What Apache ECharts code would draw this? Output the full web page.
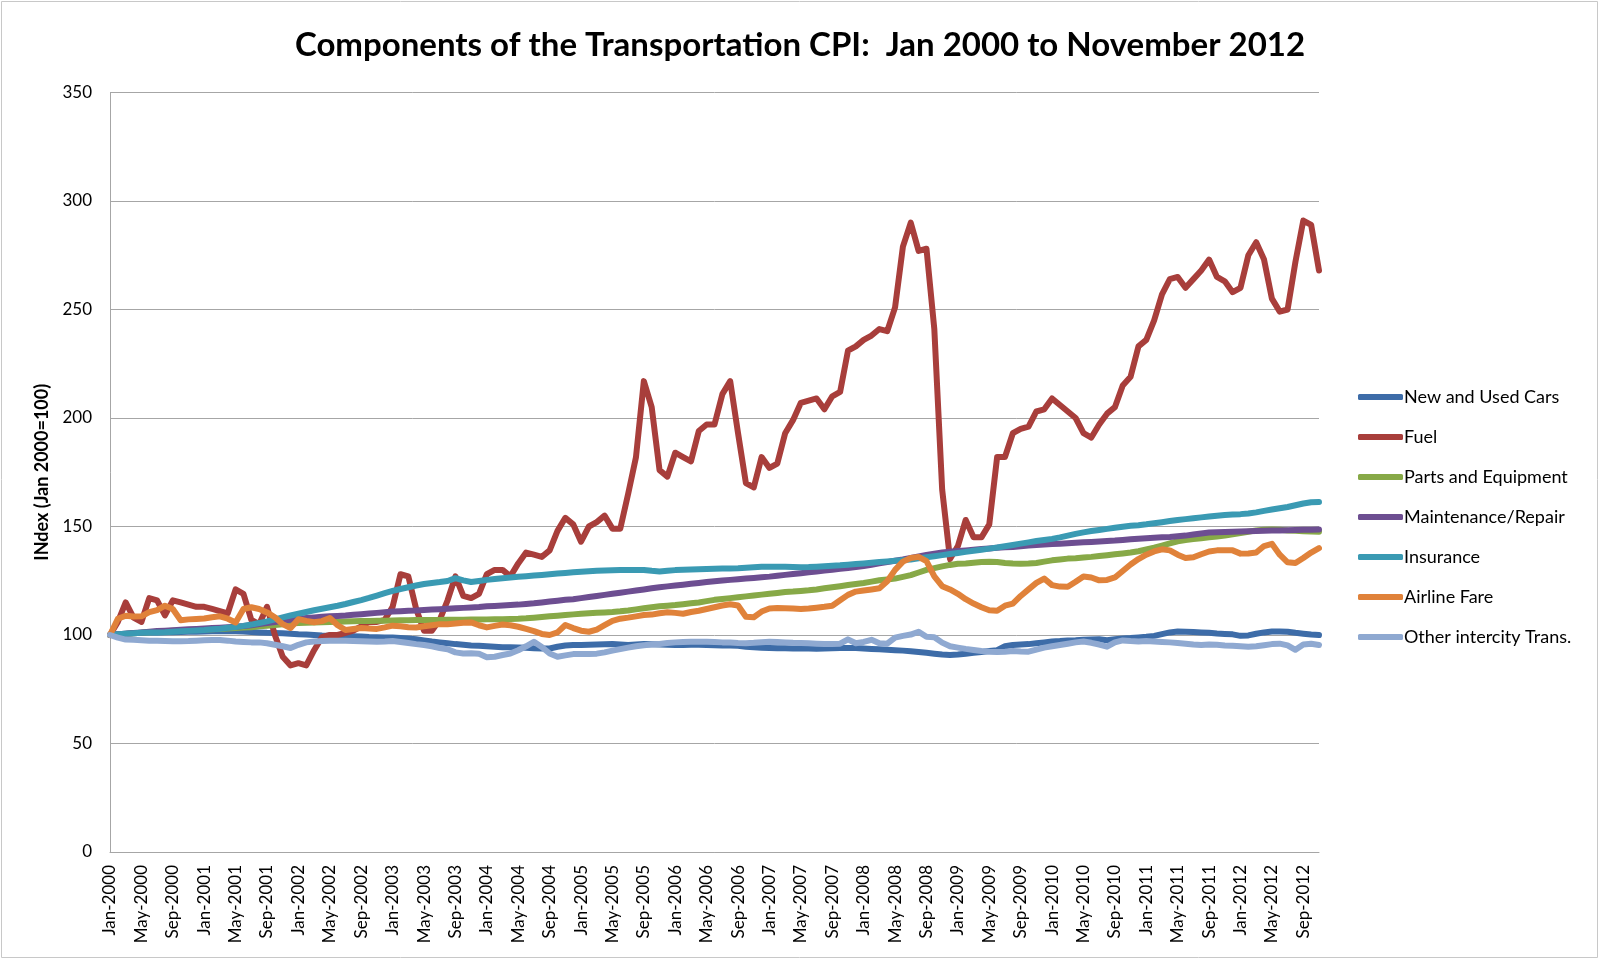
<!DOCTYPE html>
<html>
<head>
<meta charset="utf-8">
<script src="https://cdn.jsdelivr.net/npm/echarts@6/dist/echarts.min.js"></script>
<style>
html,body{margin:0;padding:0;background:#fff;}
#chart{width:1600px;height:962px;}
</style>
</head>
<body>
<div id="chart"></div>
<script>
const titleText = 'Components of the Transportation CPI:  Jan 2000 to November 2012';
const yAxisName = 'INdex (Jan 2000=100)';
const monthNames = ['Jan','Feb','Mar','Apr','May','Jun','Jul','Aug','Sep','Oct','Nov','Dec'];
const years = [2000,2001,2002,2003,2004,2005,2006,2007,2008,2009,2010,2011,2012];
const lastMonthCount = 11; // data ends Nov 2012
const yTicks = {min: 0, max: 350, interval: 50};

const seriesNames = ['New and Used Cars','Fuel','Parts and Equipment','Maintenance/Repair','Insurance','Airline Fare','Other intercity Trans.'];
const seriesColors = ['#3D6CA8','#A83E3B','#87A947','#6D4E91','#3A9AB3','#E0823A','#8FA9D1'];

const newUsedCars = [
 100,100.3,100.6,100.8,101,101.1,101.2,101.3,101.3,101.4,101.5,101.5,
 101.6,101.7,101.7,101.8,101.7,101.6,101.4,101.2,101,100.9,100.8,100.6,
 100.3,100.2,100,99.8,99.7,99.6,99.5,99.4,99.3,99.1,99,98.9,
 98.8,98.6,98.4,98,97.5,97,96.6,96.2,95.8,95.5,95.2,95,
 94.8,94.6,94.4,94.3,94.2,94.1,93.9,93.8,93.8,94.6,95.2,95.4,
 95.4,95.5,95.6,95.7,95.8,95.6,95.4,95.6,95.8,95.7,95.6,95.5,
 95.4,95.4,95.5,95.5,95.4,95.3,95.2,95.2,95,94.6,94.3,94.1,
 94,93.9,93.9,93.8,93.8,93.8,93.7,93.8,93.9,94,94,94,
 93.8,93.6,93.4,93.2,93,92.8,92.5,92.2,91.8,91.4,91,90.8,
 91,91.4,91.8,92.2,92.6,93,94.8,95.4,95.6,95.8,96.2,96.6,
 97,97.2,97.5,97.6,97.8,97.9,98,97.6,98,98.4,98.6,98.9,
 99.2,99.6,100.4,101.2,101.6,101.5,101.4,101.2,101,100.7,100.5,100.3,
 99.6,99.8,100.6,101.2,101.6,101.6,101.5,101,100.6,100.2,100
];
const fuel = [
 100,106,115,108,106,117,116,109,116,115,114,113,
 113,112,111,110,121,119,107,105,113,100,90,86,
 87,86,93,99,100,100,101,102,104,106,106,107,
 113,128,127,112,102,102,107,116,127,118,117,119,
 128,130,130,127,133,138,137,136,139,148,154,151,
 143,150,152,155,149,149,165,182,217,205,176,173,
 184,182,180,194,197,197,211,217,193,170,168,182,
 177,179,193,199,207,208,209,204,210,212,231,233,
 236,238,241,240,251,279,290,277,278,241,167,135,
 141,153,145,145,151,182,182,193,195,196,203,204,
 209,206,203,200,193,191,197,202,205,215,219,233,
 236,245,257,264,265,260,264,268,273,265,263,258,
 260,275,281,273,255,249,250,272,291,289,268
];
const partsEquipment = [
 100,100.2,100.5,100.8,101,101.3,101.5,101.7,102,102.1,102.3,102.4,
 102.5,102.6,102.8,103,103.2,103.4,103.6,104,104.3,104.6,105,105.3,
 105.5,105.7,105.8,105.9,106,106.1,106.2,106.3,106.4,106.5,106.6,106.6,
 106.7,106.8,106.8,106.9,106.9,106.9,106.9,107,107,107,107.1,107.1,
 107.2,107.3,107.3,107.4,107.5,107.7,108,108.3,108.6,108.9,109.2,109.5,
 109.8,110,110.2,110.4,110.6,110.9,111.3,111.8,112.3,112.8,113.2,113.5,
 113.8,114.2,114.6,115,115.6,116.2,116.6,117,117.4,117.8,118.2,118.6,
 119,119.4,119.8,120,120.3,120.6,121,121.5,122,122.5,123,123.5,
 124,124.6,125.2,125.6,126,126.8,127.6,128.8,130,130.8,131.6,132.3,
 132.8,133,133.3,133.6,133.8,133.6,133.2,132.9,132.8,132.9,133.2,133.8,
 134.4,134.8,135.2,135.4,135.7,136,136.4,136.8,137.2,137.6,138,138.6,
 139.4,140.2,141.2,142.2,143.2,143.8,144.2,144.6,145,145.4,145.8,146.4,
 147,147.6,148.2,148.5,148.6,148.5,148.2,148,147.8,147.7,147.6
];
const maintenanceRepair = [
 100,100.3,100.6,100.9,101.2,101.5,101.8,102,102.2,102.4,102.6,102.8,
 103,103.2,103.4,103.6,103.8,104.1,104.5,105,105.5,106,106.5,107,
 107.4,107.8,108.1,108.4,108.6,108.8,109,109.3,109.6,109.9,110.2,110.5,
 110.8,111,111.2,111.3,111.5,111.7,111.9,112.1,112.3,112.5,112.7,112.9,
 113.2,113.4,113.6,113.8,114,114.3,114.6,115,115.4,115.8,116.2,116.5,
 117,117.5,118,118.5,119,119.5,120,120.5,121,121.5,122,122.4,
 122.8,123.2,123.6,124,124.4,124.8,125.1,125.4,125.7,126,126.3,126.6,
 126.9,127.3,127.7,128.1,128.5,128.9,129.3,129.7,130.1,130.5,130.9,131.3,
 131.8,132.4,133,133.6,134.2,134.8,135.5,136.2,136.9,137.5,138,138.4,
 138.7,139,139.3,139.6,139.9,140.2,140.4,140.6,140.9,141.2,141.5,141.7,
 141.9,142.1,142.3,142.5,142.7,142.9,143.1,143.3,143.5,143.8,144.1,144.4,
 144.6,144.8,145,145.2,145.5,145.8,146.3,146.8,147.2,147.4,147.5,147.6,
 147.7,147.8,147.9,148,148.1,148.2,148.3,148.4,148.5,148.5,148.6
];
const insurance = [
 100,100.3,100.6,100.8,101,101.1,101.2,101.3,101.5,101.7,101.9,102.1,
 102.3,102.6,102.9,103.3,103.7,104.2,104.8,105.5,106.3,107.2,108.1,109,
 109.8,110.6,111.4,112.1,112.8,113.5,114.3,115.2,116.1,117.1,118.2,119.3,
 120.3,121.2,122,122.8,123.5,124,124.4,124.9,126.2,125.2,124.4,124.9,
 125.4,125.8,126.2,126.5,126.8,127.1,127.4,127.7,128,128.3,128.6,128.9,
 129.2,129.4,129.6,129.7,129.8,129.9,130,130,130,129.6,129.3,129.6,
 129.9,130.1,130.2,130.3,130.4,130.5,130.6,130.7,130.8,131,131.2,131.4,
 131.5,131.5,131.4,131.3,131.2,131.3,131.5,131.7,131.9,132.1,132.4,132.7,
 133,133.3,133.6,133.9,134.2,134.5,134.8,135.3,135.8,136.3,136.8,137.3,
 137.8,138.3,138.8,139.3,139.8,140.3,140.9,141.5,142.1,142.7,143.3,143.8,
 144.3,145,145.8,146.6,147.3,147.9,148.4,148.9,149.4,149.9,150.3,150.6,
 151,151.5,152,152.5,153,153.4,153.8,154.2,154.6,155,155.3,155.5,
 155.7,156,156.5,157.2,157.8,158.4,159,159.8,160.6,161.2,161.3
];
const airlineFare = [
 100,107.5,108.9,108.5,108.6,110.5,111.5,113.5,112,106.8,107.2,107.4,
 107.6,108.2,108.6,107.5,105.8,112,112.8,112,110.4,108.2,105,103.2,
 107.3,106.5,105.9,106.4,107.8,104.5,102.3,102.8,103.2,103,102.8,103.5,
 104.3,104,103.6,103.5,104,104.5,105,105,105.3,105.6,105.8,104.5,
 103.5,104.2,104.8,104.5,103.8,102.8,101.8,100.5,100,101.2,104.6,103.2,
 102,101.5,102.5,104.5,106.5,107.5,108,108.6,109.2,109.4,110,110.5,
 110.2,109.8,110.6,111.2,112,112.8,113.6,114.2,113.6,108.4,108.2,110.8,
 112.2,112.4,112.3,112.2,112,112.2,112.6,113,113.5,116,118.5,120,
 120.5,121,121.5,124.8,130,133.8,135.5,136,134,127,122.5,121,
 119,116.5,114.5,112.8,111.4,111.2,113.5,114.5,118,121,124,126,
 123,122.3,122.2,124.5,127,126.5,125.2,125.4,126.5,129.5,132.5,135,
 137,138.5,139.5,139,137,135.5,135.8,137.2,138.5,139,139,139,
 137.5,137.6,138,141,142,137,133.5,133.2,135.5,138,140
];
const otherIntercity = [
 100,98.8,97.9,97.8,97.6,97.4,97.3,97.2,97.1,97.1,97.2,97.4,
 97.6,97.7,97.7,97.4,97,96.8,96.6,96.6,96.2,95.5,94.8,94,
 95.5,96.6,97,97.2,97.4,97.4,97.3,97.2,97.1,97,96.9,97,
 97.2,96.8,96.3,95.8,95.4,94.8,94,93.4,92,91.5,91.6,91.4,
 89.8,90,90.8,91.5,93,94.8,96.9,94.5,91.5,90,90.6,91.2,
 91.2,91.3,91.4,92,92.8,93.5,94.2,94.8,95.3,95.6,95.9,96.3,
 96.6,96.8,96.9,96.9,96.9,96.8,96.6,96.5,96.3,96.2,96.4,96.7,
 96.9,96.8,96.6,96.4,96.3,96.2,96,95.8,95.9,96,98,96.2,
 96.8,97.8,96.2,96,98.8,99.6,100.2,101.5,99.2,99,96.5,94.8,
 94.2,93.6,93.1,92.6,92.3,92.2,92.3,92.6,92.4,92.3,93.3,94.2,
 94.8,95.4,96,96.6,97,96.4,95.6,94.6,96.6,97.5,97.2,97,
 97.2,97,96.8,96.6,96.3,96,95.6,95.4,95.6,95.5,95.2,95,
 94.8,94.6,94.8,95.3,95.8,96,95.2,93.2,95.6,96,95.4
];

const categories = [];
years.forEach(function (y, yi) {
  const n = (yi === years.length - 1) ? lastMonthCount : 12;
  for (let m = 0; m < n; m++) categories.push(monthNames[m] + '-' + y);
});

const seriesData = [newUsedCars, fuel, partsEquipment, maintenanceRepair, insurance, airlineFare, otherIntercity];
const FONT = 'Lato, "Open Sans", sans-serif';

const chart = echarts.init(document.getElementById('chart'), null, {renderer: 'canvas'});
chart.setOption({
  backgroundColor: '#ffffff',
  animation: false,
  title: {
    text: titleText,
    left: 'center',
    top: 24,
    textStyle: {fontFamily: FONT, fontWeight: 'bold', fontSize: 33, color: '#000'}
  },
  legend: {
    orient: 'vertical',
    left: 1353,
    top: 382,
    itemWidth: 45,
    itemHeight: 6,
    itemGap: 20,
    icon: 'roundRect',
    textStyle: {fontFamily: FONT, fontSize: 18, lineHeight: 20, color: '#000', padding: [0, 0, 0, -4]},
    data: seriesNames
  },
  graphic: [{
    type: 'rect',
    shape: {x: 1.5, y: 1.5, width: 1596, height: 956},
    style: {fill: 'none', stroke: '#c8c8c8', lineWidth: 1},
    silent: true
  }],
  grid: {left: 110, right: 281, top: 92.5, bottom: 110, containLabel: false},
  xAxis: {
    type: 'category',
    data: categories,
    boundaryGap: false,
    axisLine: {show: true, lineStyle: {color: '#a6a6a6', width: 1}},
    axisTick: {show: false},
    axisLabel: {
      interval: 3,
      rotate: 90,
      margin: 13,
      fontFamily: FONT,
      fontSize: 17,
      color: '#000'
    },
    splitLine: {show: false}
  },
  yAxis: {
    type: 'value',
    min: yTicks.min,
    max: yTicks.max,
    interval: yTicks.interval,
    name: yAxisName,
    nameLocation: 'middle',
    nameGap: 43,
    nameRotate: 90,
    nameTextStyle: {fontFamily: FONT, fontWeight: 'bold', fontSize: 18, color: '#000'},
    axisLine: {show: true, lineStyle: {color: '#a6a6a6', width: 1}},
    axisTick: {show: false},
    axisLabel: {margin: 18, fontFamily: FONT, fontSize: 17, color: '#000'},
    splitLine: {show: true, lineStyle: {color: '#a6a6a6', width: 1}}
  },
  series: seriesNames.map(function (name, k) {
    return {
      name: name,
      type: 'line',
      data: seriesData[k],
      showSymbol: false,
      symbol: 'none',
      smooth: false,
      color: seriesColors[k],
      lineStyle: {width: 6, color: seriesColors[k], cap: 'round', join: 'round'},
      emphasis: {disabled: true}
    };
  })
});
</script>
</body>
</html>
